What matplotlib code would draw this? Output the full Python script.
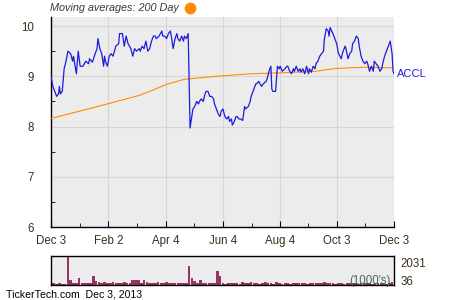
import matplotlib
matplotlib.use("Agg")
import matplotlib.pyplot as plt
import matplotlib.lines as mlines
import numpy as np
import pandas as pd

plt.rcParams['font.family'] = ['Liberation Sans', 'DejaVu Sans']

start = pd.Timestamp('2012-12-03')

# daily close (days after Dec 3 2012, price)
price_days = [0, 2, 6, 8, 9, 10, 12, 14, 16, 18, 21, 23, 24, 27, 29, 31, 34, 37, 40, 41,
              44, 47, 49, 50, 52, 54, 56, 57, 58, 60, 62, 64, 66, 69, 72, 73, 76, 78, 80, 82,
              85, 87, 89, 91, 94, 95, 97, 99, 101, 103, 105, 107, 109, 111, 112, 115, 118, 119, 121, 123,
              125, 127, 128, 130, 132, 134, 135, 137, 139, 141, 142, 144, 146, 148, 151, 153, 155, 157, 158, 160,
              162, 164, 165, 167, 169, 171, 173, 174, 176, 178, 180, 181, 183, 185, 187, 189, 190, 192, 193, 195,
              197, 198, 200, 202, 204, 206, 207, 210, 212, 213, 215, 218, 219, 221, 224, 226, 229, 230, 232, 234,
              235, 236, 239, 241, 243, 244, 246, 249, 251, 252, 254, 256, 258, 259, 261, 263, 265, 266, 268, 270,
              272, 274, 275, 277, 279, 281, 282, 284, 286, 288, 290, 291, 293, 295, 296, 297, 300, 302, 304, 306,
              309, 310, 313, 314, 316, 318, 320, 321, 323, 325, 327, 328, 330, 332, 334, 336, 337, 339, 341, 343,
              344, 346, 348, 350, 352, 353, 355, 357, 359, 361, 363, 364, 365]
price = [9.0, 8.8, 8.6, 8.65, 8.8, 8.65, 8.7, 9.15, 9.3, 9.5, 9.45, 9.3, 9.4, 9.05, 9.5, 9.2, 9.2, 9.3, 9.25, 9.35,
         9.28, 9.45, 9.55, 9.75, 9.55, 9.45, 9.2, 9.4, 9.3, 9.2, 9.4, 9.45, 9.4, 9.6, 9.65, 9.85, 9.85, 9.6, 9.8, 9.65,
         9.55, 9.4, 9.55, 9.5, 9.55, 9.5, 9.6, 9.55, 9.7, 9.5, 9.55, 9.7, 9.8, 9.8, 9.75, 9.8, 9.9, 9.8, 9.8, 9.75,
         9.85, 9.9, 9.8, 9.55, 9.75, 9.85, 9.75, 9.7, 9.8, 9.7, 9.8, 9.75, 9.85, 7.97, 8.35, 8.4, 8.5, 8.45, 8.5, 8.55,
         8.5, 8.65, 8.7, 8.7, 8.6, 8.6, 8.55, 8.45, 8.35, 8.25, 8.2, 8.3, 8.35, 8.2, 8.15, 8.2, 8.1, 8.15, 8.03, 8.1,
         8.2, 8.2, 8.15, 8.15, 8.12, 8.4, 8.35, 8.4, 8.5, 8.6, 8.7, 8.85, 8.85, 8.9, 8.8, 8.85, 8.9, 8.95, 9.1, 9.2,
         8.75, 8.7, 8.7, 9.2, 9.15, 9.2, 9.1, 9.15, 9.2, 9.2, 9.1, 9.05, 9.15, 9.1, 9.2, 9.1, 9.15, 9.08, 9.15, 9.05,
         9.2, 9.05, 9.15, 9.08, 9.2, 9.15, 9.25, 9.3, 9.4, 9.45, 9.5, 9.75, 9.95, 9.9, 9.8, 9.97, 9.85, 9.75, 9.65, 9.45,
         9.35, 9.45, 9.6, 9.55, 9.35, 9.45, 9.5, 9.65, 9.7, 9.8, 9.75, 9.6, 9.4, 9.3, 9.25, 9.3, 9.25, 9.1, 9.2, 9.1,
         9.3, 9.25, 9.2, 9.1, 9.15, 9.25, 9.4, 9.5, 9.6, 9.7, 9.45, 9.1, 9.05]

# 200 day moving average
ma_days = [0, 52, 94, 109, 123, 142, 176, 212, 246, 282, 300, 318, 336, 362]
ma = [8.16, 8.41, 8.62, 8.73, 8.84, 8.94, 9.0, 9.05, 9.07, 9.1, 9.15, 9.17, 9.18, 9.17]

# volume in 1000's, one bar every 3 days
vol = [380, 120, 90, 110, 100, 90, 2031, 330, 140, 160, 470, 130, 120, 150, 170, 600, 290, 220, 160, 210,
       170, 150, 190, 140, 170, 130, 200, 160, 150, 330, 340, 320, 160, 340, 200, 150, 170, 140, 180, 160,
       130, 190, 150, 170, 140, 160, 120, 150, 130, 1350, 470, 250, 150, 360, 140, 130, 170, 150, 120, 1000,
       640, 120, 100, 140, 110, 170, 120, 100, 180, 130, 110, 200, 140, 150, 100, 120, 180, 110, 140, 100,
       190, 120, 100, 160, 140, 100, 130, 110, 150, 120, 140, 100, 170, 130, 110, 150, 120, 200, 170, 110,
       130, 100, 150, 120, 100, 140, 110, 160, 120, 100, 130, 110, 150, 120, 100, 130, 110, 150, 120, 100,
       130, 180]

tick_labels = ['Dec 3', 'Feb 2', 'Apr 4', 'Jun 4', 'Aug 4', 'Oct 3', 'Dec 3']
tick_dates = pd.to_datetime(['2012-12-03', '2013-02-02', '2013-04-04', '2013-06-04',
                             '2013-08-04', '2013-10-03', '2013-12-03'])

txt = '#3b2f1a'
bg = '#ececec'

fig = plt.figure(figsize=(4.5, 3), dpi=100)
ax = fig.add_axes([0.1133, 0.2433, 0.7622, 0.70])
ax.set_facecolor(bg)

pdates = start + pd.to_timedelta(price_days, unit='D')
mdates_ = start + pd.to_timedelta(ma_days, unit='D')
ax.plot(mdates_, ma, color='#ff8c00', lw=0.8, zorder=3)
ax.plot(pdates, price, color='#1c1cdc', lw=0.9, zorder=4)

ax.set_xlim(tick_dates[0], tick_dates[-1])
ax.set_ylim(6, 10.18)
ax.set_yticks([6, 7, 8, 9, 10])
ax.set_yticks([6.5, 7.5, 8.5, 9.5], minor=True)
ax.set_xticks(tick_dates)
ax.set_xticklabels(tick_labels)
mids = tick_dates[:-1] + (tick_dates[1:] - tick_dates[:-1]) / 2
ax.set_xticks(mids, minor=True)
ax.grid(True, which='major', color='#d6d6d6', lw=0.8)
ax.set_axisbelow(True)
for s in ['top', 'right']:
    ax.spines[s].set_visible(False)
for s in ['left', 'bottom']:
    ax.spines[s].set_color('black')
    ax.spines[s].set_linewidth(1.0)
ax.tick_params(axis='x', which='major', direction='in', length=4, pad=6, labelsize=8.3, colors='black', labelcolor=txt)
ax.tick_params(axis='x', which='minor', direction='in', length=3)
ax.tick_params(axis='y', which='major', direction='in', length=0, pad=12, labelsize=8.3, labelcolor=txt)
ax.tick_params(axis='y', which='minor', direction='in', length=3)

ax.text(1.008, 9.05, 'ACCL', transform=ax.get_yaxis_transform(), color='#1c1cdc',
        fontsize=8, va='center', ha='left')

# volume panel
vax = fig.add_axes([0.1133, 0.05, 0.7622, 0.0967])
vax.set_facecolor(bg)
vdates = start + pd.to_timedelta(np.arange(len(vol)) * 3, unit='D')
vax.bar(vdates, vol, width=2.8, color='#993366', align='center')
vax.set_xlim(tick_dates[0], tick_dates[-1])
vax.set_ylim(0, 2031)
vax.set_xticks([])
vax.set_yticks([])
for s in vax.spines.values():
    s.set_color('black')
    s.set_linewidth(1.0)
vax.text(1.02, 0.72, '2031', transform=vax.transAxes, fontsize=8.3, color=txt, va='center')
vax.text(1.02, 0.11, '36', transform=vax.transAxes, fontsize=8.3, color=txt, va='center')
vax.text(0.99, 0.13, "(1000's)", transform=vax.transAxes, fontsize=8.3, color='#3d6e55',
         va='center', ha='right')

fig.text(0.111, 0.972, 'Moving averages: 200 Day', fontsize=7.8, style='italic', color='#3a3a3a',
         va='center', ha='left')
fig.add_artist(mlines.Line2D([0.423], [0.975], marker='o', markersize=7.5, color='#ff8c00',
                             transform=fig.transFigure))
fig.text(0.013, 0.017, 'TickerTech.com  Dec 3, 2013', fontsize=7.6, color='black', va='center', ha='left')

fig.savefig('out.png', dpi=100)
